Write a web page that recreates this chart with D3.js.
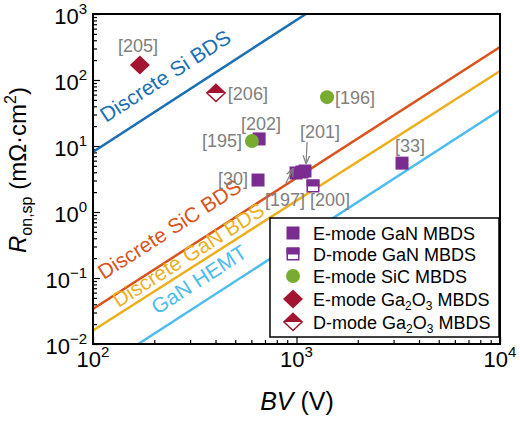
<!DOCTYPE html>
<html><head><meta charset="utf-8">
<script src="https://cdn.jsdelivr.net/npm/d3@7/dist/d3.min.js"></script>
<style>body{margin:0;background:#fff}svg{display:block}text{font-family:"Liberation Sans",Arial,sans-serif}</style>
</head><body><svg id="c" width="520" height="421"></svg>
<script>
// ---- data ----
const xTicks = [100, 1000, 10000];
const xTickExp = ["2", "3", "4"];
const yTicks = [0.01, 0.1, 1, 10, 100, 1000];
const yTickExp = ["\u22122", "\u22121", "0", "1", "2", "3"];

// limit lines: value at BV=100 and BV=10000
const lineNames = ["Discrete Si BDS", "Discrete SiC BDS", "Discrete GaN BDS", "GaN HEMT"];
const lineBV = [100, 10000];
const lineR = [[8.1, 81000], [0.034, 316], [0.016, 137], [0.0036, 35]];
const lineColors = ["#1a6fb5", "#d9531e", "#ecb01f", "#4cbdec"];
const lineLabelBV = [116, 113, 133.5, 207];
const lineLabelR = [22.3, 0.093, 0.035, 0.0275];

const eGaN_BV = [655, 647, 995, 1064, 1101, 3300];
const eGaN_R = [12.8, 3.05, 3.9, 4.04, 4.18, 5.5];
const dGaN_BV = [1205];
const dGaN_R = [2.48];
const eSiC_BV = [604, 1413];
const eSiC_R = [11.9, 55];
const eGa2O3_BV = [170];
const eGa2O3_R = [169];
const dGa2O3_BV = [402];
const dGa2O3_R = [63.5];

const refText = ["[205]", "[206]", "[202]", "[195]", "[30]", "[201]", "[197]", "[200]", "[33]", "[196]"];
const refBV = [132.7, 460, 533, 343, 411, 1040, 700, 1165, 3048, 1546];
const refR = [265, 49.8, 17.5, 9.66, 2.56, 13.2, 1.23, 1.23, 8.1, 43.3];

const arrowFromBV = [1127, 887];
const arrowFromR = [11.5, 2.75];
const arrowToBV = [1115, 961];
const arrowToR = [5.52, 4.49];

const legendLabels = ["E-mode GaN MBDS", "D-mode GaN MBDS", "E-mode SiC MBDS", "E-mode Ga2O3 MBDS", "D-mode Ga2O3 MBDS"];

// ---- styles ----
const purple = "#7b2c90", green = "#77ac30", red = "#a2142f", grey = "#808080";
const L = 93, R = 500, T = 14, B = 344;
const svg = d3.select("#c");
const x = d3.scaleLog().domain([100, 10000]).range([L, R]);
const y = d3.scaleLog().domain([0.01, 1000]).range([B, T]);

svg.append("defs").append("clipPath").attr("id", "clip")
  .append("rect").attr("x", L).attr("y", T).attr("width", R - L).attr("height", B - T);
const defs = svg.select("defs");
defs.append("marker").attr("id", "arr").attr("viewBox", "0 0 10 10").attr("refX", 9).attr("refY", 5)
  .attr("markerWidth", 7).attr("markerHeight", 7).attr("orient", "auto")
  .append("path").attr("d", "M0,1 L10,5 L0,9").attr("fill", "none").attr("stroke", grey).attr("stroke-width", 1.5);

// axes (ticks inward)
const minorFmt = () => "";
const xAxis = d3.axisTop(x).tickValues(d3.range(2, 5).flatMap(e => d3.range(1, 10).map(m => m * Math.pow(10, e))).filter(v => v <= 10000))
  .tickSize(0).tickFormat(minorFmt);
const gx = svg.append("g").attr("transform", `translate(0,${B})`).call(xAxis);
gx.select(".domain").remove();
gx.selectAll(".tick line").attr("y2", d => -((Math.abs(Math.log10(d) % 1) < 1e-9) ? 7 : 4)).attr("stroke", "#000").attr("stroke-width", 1.2);
const yMinor = d3.range(-2, 3).flatMap(e => d3.range(1, 10).map(m => m * Math.pow(10, e))).concat([1000]);
const yAxis = d3.axisRight(y).tickValues(yMinor).tickSize(0).tickFormat(minorFmt);
const gy = svg.append("g").attr("transform", `translate(${L},0)`).call(yAxis);
gy.select(".domain").remove();
gy.selectAll(".tick line").attr("x2", d => ((Math.abs(Math.log10(d) - Math.round(Math.log10(d))) < 1e-9) ? 7 : 4)).attr("stroke", "#000").attr("stroke-width", 1.2);

// tick labels
xTicks.forEach((v, i) => {
  const t = svg.append("text").attr("x", x(v)).attr("y", 367).attr("text-anchor", "middle").attr("font-size", 22).attr("fill", "#000");
  t.append("tspan").text("10");
  t.append("tspan").attr("font-size", 15).attr("dy", -10).text(xTickExp[i]);
});
yTicks.forEach((v, i) => {
  const t = svg.append("text").attr("x", 87).attr("y", y(v) + 10).attr("text-anchor", "end").attr("font-size", 22).attr("fill", "#000");
  t.append("tspan").text("10");
  t.append("tspan").attr("font-size", 15).attr("dy", -10).text(yTickExp[i]);
});

// limit lines
const lineGen = d3.line().x(d => x(d[0])).y(d => y(d[1]));
const gl = svg.append("g").attr("clip-path", "url(#clip)");
lineR.forEach((rr, i) => {
  gl.append("path").datum(lineBV.map((b, j) => [b, rr[j]])).attr("d", lineGen)
    .attr("fill", "none").attr("stroke", lineColors[i]).attr("stroke-width", 2.5);
});
lineR.forEach((rr, i) => {
  const ang = Math.atan2(y(rr[1]) - y(rr[0]), x(lineBV[1]) - x(lineBV[0])) * 180 / Math.PI;
  const px = x(lineLabelBV[i]), py = y(lineLabelR[i]);
  svg.append("text").attr("transform", `translate(${px},${py}) rotate(${ang})`)
    .attr("font-size", 21).attr("fill", lineColors[i]).text(lineNames[i]);
});

// markers
const sq = 13;
const gm = svg.append("g");
eGaN_BV.forEach((b, i) => {
  gm.append("rect").attr("x", x(b) - sq / 2).attr("y", y(eGaN_R[i]) - sq / 2).attr("width", sq).attr("height", sq).attr("fill", purple);
});
function dSquare(g, cx, cy, s) {
  g.append("rect").attr("x", cx - s / 2 + 0.75).attr("y", cy - s / 2 + 0.75).attr("width", s - 1.5).attr("height", s - 1.5)
    .attr("fill", "#fff").attr("stroke", purple).attr("stroke-width", 1.5);
  g.append("rect").attr("x", cx - s / 2).attr("y", cy - s / 2).attr("width", s).attr("height", s / 2 + 0.5).attr("fill", purple);
}
dGaN_BV.forEach((b, i) => dSquare(gm, x(b), y(dGaN_R[i]), sq));
eSiC_BV.forEach((b, i) => {
  gm.append("circle").attr("cx", x(b)).attr("cy", y(eSiC_R[i])).attr("r", 7).attr("fill", green);
});
function diamond(g, cx, cy, w, h, half) {
  if (!half) {
    g.append("path").attr("d", `M${cx},${cy - h / 2}L${cx + w / 2},${cy}L${cx},${cy + h / 2}L${cx - w / 2},${cy}Z`).attr("fill", red);
  } else {
    g.append("path").attr("d", `M${cx},${cy - h / 2 + 1}L${cx + w / 2 - 1},${cy}L${cx},${cy + h / 2 - 1}L${cx - w / 2 + 1},${cy}Z`)
      .attr("fill", "#fff").attr("stroke", red).attr("stroke-width", 1.5);
    g.append("path").attr("d", `M${cx},${cy - h / 2}L${cx + w / 2},${cy}L${cx - w / 2},${cy}Z`).attr("fill", red);
  }
}
eGa2O3_BV.forEach((b, i) => diamond(gm, x(b), y(eGa2O3_R[i]), 20, 19, false));
dGa2O3_BV.forEach((b, i) => diamond(gm, x(b), y(dGa2O3_R[i]), 20, 19, true));

// reference labels and arrows
refText.forEach((t, i) => {
  svg.append("text").attr("x", x(refBV[i])).attr("y", y(refR[i])).attr("font-size", 18).attr("fill", grey).text(t);
});
arrowFromBV.forEach((b, i) => {
  svg.append("line").attr("x1", x(b)).attr("y1", y(arrowFromR[i])).attr("x2", x(arrowToBV[i])).attr("y2", y(arrowToR[i]))
    .attr("stroke", grey).attr("stroke-width", 1.2).attr("marker-end", "url(#arr)");
});

// frame
svg.append("rect").attr("x", L).attr("y", T).attr("width", R - L).attr("height", B - T)
  .attr("fill", "none").attr("stroke", "#000").attr("stroke-width", 2);

// legend
const lg = svg.append("g");
lg.append("rect").attr("x", 270).attr("y", 218).attr("width", 229).attr("height", 119)
  .attr("fill", "#fff").attr("stroke", "#000").attr("stroke-width", 1.5);
const rowsY = [233, 254, 276, 299, 322];
const sx = 293;
lg.append("rect").attr("x", sx - 6.5).attr("y", rowsY[0] - 6.5).attr("width", 13).attr("height", 13).attr("fill", purple);
dSquare(lg, sx, rowsY[1], 13);
lg.append("circle").attr("cx", sx).attr("cy", rowsY[2]).attr("r", 7).attr("fill", green);
diamond(lg, sx, rowsY[3], 20, 19, false);
diamond(lg, sx, rowsY[4], 20, 19, true);
legendLabels.forEach((s, i) => {
  const t = lg.append("text").attr("x", 313).attr("y", rowsY[i] + 6.5).attr("font-size", 18).attr("fill", "#000");
  const m = s.match(/^(.*Ga)2O3(.*)$/);
  if (m) {
    t.append("tspan").text(m[1]);
    t.append("tspan").attr("font-size", 12).attr("dy", 4).text("2");
    t.append("tspan").attr("dy", -4).text("O");
    t.append("tspan").attr("font-size", 12).attr("dy", 4).text("3");
    t.append("tspan").attr("dy", -4).text(m[2]);
  } else t.text(s);
});

// axis titles
const xt = svg.append("text").attr("x", 297).attr("y", 410).attr("text-anchor", "middle").attr("font-size", 25).attr("fill", "#000");
xt.append("tspan").attr("font-style", "italic").text("BV");
xt.append("tspan").text(" (V)");
const yt = svg.append("text").attr("transform", "translate(26,171) rotate(-90)").attr("font-size", 24).attr("fill", "#000");
yt.append("tspan").attr("font-style", "italic").text("R");
yt.append("tspan").attr("font-size", 16).attr("dy", 6).text("on,sp");
yt.append("tspan").attr("dy", -6).text(" (m\u03A9\u00B7cm");
yt.append("tspan").attr("font-size", 16).attr("dy", -10).text("2");
yt.append("tspan").attr("dy", 10).text(")");
// center the y title on its measured length
const len = yt.node().getComputedTextLength();
yt.attr("transform", `translate(26,${170 + len / 2}) rotate(-90)`);
</script></body></html>
